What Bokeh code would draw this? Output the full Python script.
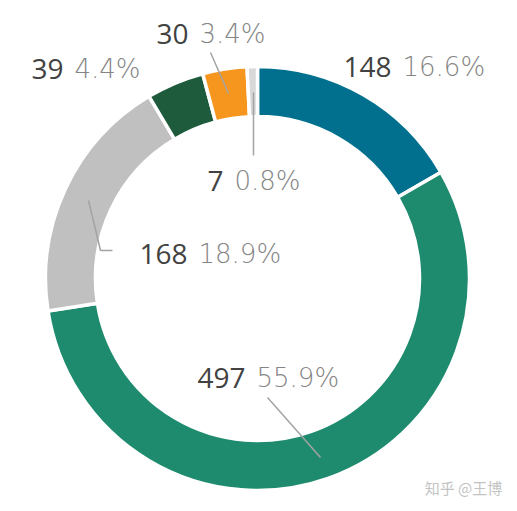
import math
from bokeh.plotting import figure
from bokeh.models import Range1d, ColumnDataSource
from bokeh.core.properties import value
from bokeh.embed import file_html
from bokeh.resources import INLINE

# data
values = [148, 497, 168, 39, 30, 7]
percents = ["16.6%", "55.9%", "18.9%", "4.4%", "3.4%", "0.8%"]
colors = ["#00708e", "#1e8b6f", "#c0c0c0", "#1d5b3c", "#f7961f", "#d8d8d8"]

W, H = 509, 503
def X(px): return px
def Y(py): return H - py

p = figure(width=W, height=H, output_backend="svg", toolbar_location=None,
           x_range=Range1d(0, W), y_range=Range1d(0, H), min_border=0)
p.axis.visible = False
p.grid.visible = False
p.outline_line_color = None
p.background_fill_color = "white"

total = sum(values)
starts, ends = [], []
cum = 0
for v in values:
    starts.append(math.pi / 2 - 2 * math.pi * cum / total)
    cum += v
    ends.append(math.pi / 2 - 2 * math.pi * cum / total)

cx, cy = X(257), Y(278)
src = ColumnDataSource(dict(start=starts, end=ends, color=colors))
p.annular_wedge(x=cx, y=cy, inner_radius=162, outer_radius=212,
                start_angle="start", end_angle="end", direction="clock",
                fill_color="color", line_color="white", line_width=3.5, source=src)

# leader lines
lc = "#a3a3a3"
p.line([X(210), X(228)], [Y(52), Y(93)], line_color=lc, line_width=1.5)
p.line([X(253), X(253)], [Y(92), Y(155)], line_color=lc, line_width=1.5)
p.line([X(88), X(100), X(112)], [Y(200), Y(250), Y(250)], line_color=lc, line_width=1.5)
p.line([X(267), X(320)], [Y(397), Y(457)], line_color=lc, line_width=1.5)

# labels: anchor = space centre (page coords), same order as values
anchors = [(396, 66), (250, 377), (192, 253), (68, 68), (193, 33), (228, 180)]
ax = [X(a[0]) for a in anchors]
ay = [Y(a[1]) for a in anchors]
p.text(x=[a - 5 for a in ax], y=ay, text=[str(v) for v in values],
       text_font=value("Open Sans"), text_font_size="28px", text_color="#424242",
       text_align="right", text_baseline="middle")
p.text(x=[a + 6 for a in ax], y=ay, text=percents,
       text_font=value("DejaVu Sans Light"), text_font_size="26px", text_color="#858585",
       text_align="left", text_baseline="middle")

p.text(x=[X(463)], y=[Y(487)], text=["知乎 @王博"],
       text_font=value("Noto Sans CJK SC"), text_font_size="15px", text_color="#c4c4c4",
       text_align="center", text_baseline="middle")

open("out.html", "w").write(file_html(p, INLINE))
